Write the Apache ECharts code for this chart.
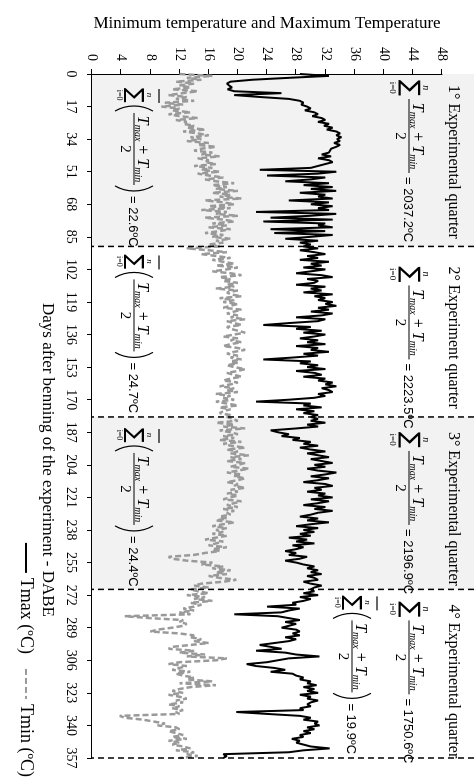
<!DOCTYPE html>
<html>
<head>
<meta charset="utf-8">
<script src="https://cdn.jsdelivr.net/npm/echarts@6/dist/echarts.min.js"></script>
<style>
  html, body { margin: 0; padding: 0; background: #fff; width: 474px; height: 779px; overflow: hidden; }
  /* chart is drawn landscape and turned a quarter clockwise, like the figure */
  #chart { position: absolute; left: 0; top: 0; width: 779px; height: 474px;
           transform-origin: 0 0; transform: translate(474px, 0) rotate(90deg); }
</style>
</head>
<body>
<div id="chart"></div>
<script>
// daily maximum temperature, days 0..357
const tmax = [
  28.5, 32.5, 27, 22, 19, 18.5, 18.8, 19.2, 18.6, 19.5,
  26, 19.5, 23, 27, 28.5, 29, 28.7, 29.5, 30, 29.2,
  30.5, 31, 30.2, 31.5, 32, 31, 32.5, 31.8, 33, 32.2,
  33.5, 34, 33.5, 34.2, 33.6, 34, 33.2, 34, 33.5, 32.8,
  33, 32.5, 31.5, 32.8, 31, 32.5, 33, 32, 31.8, 30,
  23, 33.5, 31, 24, 32, 30, 26.5, 32.5, 29, 33,
  30, 33.5, 28.5, 32, 31, 33, 27, 32.5, 30, 33,
  31, 32.5, 22.5, 33.5, 30, 24.5, 33, 23.5, 32, 31,
  33, 24.5, 32, 25, 33, 30, 26.5, 31, 28.5, 30,
  29, 31, 28.5, 30.5, 32, 29.5, 31, 28.5, 32.5, 30,
  31.5, 29, 32, 30, 28, 31.5, 33, 29.5, 31, 30.5,
  28, 32, 30, 31.5, 29, 33, 30.5, 32, 31, 33,
  32, 33.5, 31, 32.5, 30, 33, 31.5, 28, 32, 31,
  27, 23.5, 30, 28, 31.5, 29, 32, 30.5, 28.5, 31,
  29.5, 32, 28, 31, 30, 32.5, 29, 31, 27.5, 23.5,
  30, 28.5, 31, 29.5, 32, 28, 30.5, 31.5, 29, 32,
  31, 33, 32, 33.5, 31.5, 32.5, 33, 31, 32, 30.5,
  27, 22.5, 30, 29, 31.5, 28, 30.5, 29, 31, 30,
  31, 30, 32, 29.5, 31, 28, 24.5, 25.5, 27, 26,
  28.5, 27.5, 30, 29, 31, 28.5, 30, 32, 29.5, 31,
  32.5, 30, 31.5, 33, 30.5, 32, 29.5, 31, 33.5, 32,
  30, 32.5, 31, 29, 32, 33, 30.5, 31.5, 29.5, 32,
  31, 33, 30, 32.5, 31, 29, 32, 30.5, 33, 31,
  30, 28.5, 31, 29.5, 32.5, 30, 28, 31, 29, 30.5,
  28.5, 30, 27, 29.5, 28, 30.5, 27.5, 29, 28, 26.5,
  28, 27, 29.5, 28.5, 26.5, 28, 29, 30.5, 29.5, 31,
  30, 31.5, 29.5, 30.5, 31, 29, 30, 31.5, 30.5, 30,
  30.5, 29, 31, 28.5, 30, 29, 27.5, 28, 24, 28.5,
  27, 26, 19.5, 25.5, 27, 28.5, 26.5, 28, 27, 26,
  28, 28.5, 27.5, 28.5, 26.5, 28, 27, 25, 23, 24.5,
  26, 22.5, 26.5, 28, 31.2, 27, 25.5, 24, 21.2, 22.5,
  25, 26.5, 24.5, 27.5, 28, 29, 28.5, 30, 29.5, 30.8,
  29, 30.5, 29.5, 31, 28.5, 30, 29.5, 31, 30, 29.5,
  30, 28.5, 29, 19.8, 24, 28.5, 30, 29, 31, 30.5,
  31.2, 29.5, 30.5, 29, 30, 28.5, 29, 27.4, 28.5, 28,
  29, 30, 32.6, 29, 27, 18, 18.5, 18
];

// daily minimum temperature, days 0..357
const tmin = [
  12, 16.5, 13, 15, 11.5, 14, 12, 13.5, 11, 14.5,
  12.5, 10.5, 13, 11.5, 14, 10, 12.5, 9.5, 12, 11,
  13.5, 10.5, 12, 14.5, 11.5, 13, 12.5, 14, 13, 15.5,
  12.5, 14.5, 16, 13.5, 15, 13, 16, 14.5, 17, 15,
  14, 16.5, 15, 17.5, 14.5, 16, 15.5, 17, 14, 16.5,
  15, 17.5, 14.5, 16, 18, 15.5, 17, 19.5, 16.5, 18.5,
  17, 20, 16.5, 19, 17.5, 20.5, 15.5, 18, 19.5, 16,
  19, 15, 18.5, 17, 20, 15.5, 18, 19.5, 16.5, 18.5,
  16, 19, 17.5, 15.5, 18, 16.5, 19, 17, 18, 16,
  17.5, 13, 16, 18.5, 15, 17, 19, 16.5, 18, 19.5,
  17, 20, 18.5, 16.5, 19, 20.5, 17.5, 19, 18, 20,
  18.5, 19.5, 17, 20, 18.5, 19, 20.5, 17.5, 19.5, 18,
  20, 19, 18, 20.5, 19.5, 18.5, 20, 19, 21, 18.5,
  19.5, 20.5, 18.5, 19, 20, 21, 19.5, 18, 20, 19,
  20.5, 19, 18, 20, 21, 19.5, 18.5, 20, 19, 20.5,
  19, 20, 18.5, 19.5, 21, 20, 18.5, 19.5, 20.5, 19,
  18, 20, 19, 17.5, 19.5, 18.5, 20, 17, 19, 18,
  19.5, 17, 18.5, 20, 17.5, 19, 18, 17.5, 19, 18.5,
  18.5, 20, 17, 19.5, 18, 21, 17.5, 19, 20, 18,
  19.5, 17.5, 20.5, 18, 19, 21, 18.5, 20, 19, 21.5,
  19, 20.5, 18.5, 21, 20, 19, 21.5, 20, 18.5, 20.5,
  19.5, 21, 20, 18.5, 20, 19.5, 21, 19, 20, 18.5,
  20, 19, 18, 20.5, 19.5, 18.5, 20, 18, 19.5, 18.5,
  19, 17.5, 18.5, 17, 19.5, 18, 16.5, 18.5, 17, 18,
  16.5, 18.5, 17, 15.5, 18, 17, 16, 18.5, 16.5, 17.5,
  15.5, 14, 10.5, 11, 13, 16.5, 15, 18, 16.5, 19,
  17, 18.5, 16, 17.5, 19.8, 18, 15, 14, 16, 13.5,
  14.5, 16, 13, 15.5, 14, 16.5, 13.5, 15, 14, 12.5,
  14, 12, 13.5, 4.5, 8, 12.5, 12, 13, 12.5, 11,
  9, 8, 12, 14, 13.5, 15, 14, 16, 13.5, 11,
  10.5, 14, 12, 15.5, 13, 18.5, 17, 12, 10.5, 13,
  12, 11, 13.5, 11.5, 12.5, 14, 13, 16.5, 12, 17,
  13.5, 12, 11, 12.5, 10.5, 12, 13, 11.5, 12.5, 10.5,
  12, 11, 12.5, 11.5, 12, 3.8, 4.5, 7, 8.5, 10,
  9, 11.5, 12, 10.5, 11.5, 12.5, 11, 13, 10.5, 12,
  11, 12.5, 13.5, 11.5, 14, 13, 14.5, 12
];

const quarterBounds = [0, 90, 179, 269, 357];
const quarterTitles = ['1° Experimental quarter', '2° Experiment quarter', '3° Experimental quarter', '4° Experimental quarter'];
const quarterSums = ['2037.2', '2223.5', '2196.9', '1750.6'];
const quarterMeans = ['22.6', '24.7', '24.4', '19.9'];

// layout of the annotations (pixels from the start of each quarter)
const titleOff = [11, 20, 15, 15];
const sumOff = [6, 20, 15, 12];
const meanOff = [14, 8, 11, 6];
const meanAxis = [340, 340, 340, 122];

const serif = '"Liberation Serif", "Times New Roman", serif';
const chart = echarts.init(document.getElementById('chart'));

const option = {
  animation: false,
  backgroundColor: '#fff',
  grid: { left: 74, right: 21, top: 32, bottom: 92, containLabel: false, outerBoundsMode: 'none' },
  legend: {
    right: -3,
    bottom: 12,
    itemWidth: 30,
    itemHeight: 3,
    itemGap: 14,
    itemStyle: { opacity: 0 },
    textStyle: { fontFamily: serif, fontSize: 18, color: '#000' },
    data: ['Tmax (ºC)', 'Tmin (ºC)']
  },
  xAxis: {
    type: 'value',
    min: 0,
    max: 357,
    interval: 17,
    name: 'Days after benning of the experiment - DABE',
    nameLocation: 'middle',
    nameGap: 36,
    nameTextStyle: { fontFamily: serif, fontSize: 17, color: '#000', padding: [0, 0, 0, 88] },
    axisLine: { show: true, onZero: false, lineStyle: { color: '#000', width: 1 } },
    axisTick: { show: true, inside: false, length: 5, lineStyle: { color: '#000' } },
    axisLabel: { fontFamily: serif, fontSize: 14, color: '#000', margin: 14 },
    splitLine: { show: false }
  },
  yAxis: {
    type: 'value',
    min: 0,
    max: 48,
    interval: 4,
    name: 'Minimum temperature and Maximum Temperature',
    nameLocation: 'middle',
    nameGap: 42,
    nameTextStyle: { fontFamily: serif, fontSize: 17, color: '#000' },
    axisLine: { show: true, lineStyle: { color: '#000', width: 1 } },
    axisTick: { show: true, inside: false, length: 5, lineStyle: { color: '#000' } },
    axisLabel: { fontFamily: serif, fontSize: 14, color: '#000', margin: 13 },
    splitLine: { show: false }
  },
  series: [
    {
      name: 'Tmax (ºC)',
      type: 'line',
      data: tmax.map((v, i) => [i, v]),
      symbol: 'none',
      z: 4,
      lineStyle: { color: '#000', width: 2 },
      itemStyle: { color: '#000' }
    },
    {
      name: 'Tmin (ºC)',
      type: 'line',
      data: tmin.map((v, i) => [i, v]),
      symbol: 'none',
      z: 3,
      lineStyle: { color: '#9a9a9a', width: 2.5, type: [6, 3] },
      itemStyle: { color: '#9a9a9a' }
    }
  ]
};

chart.setOption(option);

// ---- quarter shading, dashed separators and the formulas ----
const px = d => chart.convertToPixel({ xAxisIndex: 0 }, d);
const base = chart.convertToPixel({ yAxisIndex: 0 }, 0);

function txt(text, x, y, font, align, va) {
  return {
    type: 'text', x: x, y: y, z: 10,
    style: { text: text, font: font, fill: '#000', align: align || 'left', textAlign: align || 'left',
             verticalAlign: va || 'middle', textVerticalAlign: va || 'middle' }
  };
}

function numerator(x, y, size) {
  const sub = Math.round(size * 0.62);
  return {
    type: 'text', x: x, y: y, z: 10,
    style: {
      text: '{t|T}{s|max}{o| + }{t|T}{s|min}',
      align: 'center', textAlign: 'center', verticalAlign: 'middle', textVerticalAlign: 'middle',
      rich: {
        t: { fontFamily: serif, fontStyle: 'italic', fontSize: size, color: '#000' },
        s: { fontFamily: serif, fontStyle: 'italic', fontSize: sub, color: '#000', verticalAlign: 'bottom', lineHeight: size + 2 },
        o: { fontFamily: serif, fontSize: size, color: '#000' }
      }
    }
  };
}

function sigma(els, x, ay, size) {
  els.push(txt('∑', x, ay, size + 'px "DejaVu Sans"', 'left', 'middle'));
  els.push(txt('n', x + size * 0.32, ay - size * 0.68, 'italic ' + Math.round(size * 0.4) + 'px ' + serif, 'center'));
  els.push(txt('i=0', x + size * 0.32, ay + size * 0.7, Math.round(size * 0.38) + 'px ' + serif, 'center'));
}

function addSum(els, x, ay, value) {
  sigma(els, x, ay, 24);
  const fx = x + 19, fw = 74;
  els.push({ type: 'line', z: 10, shape: { x1: fx, y1: ay, x2: fx + fw, y2: ay }, style: { stroke: '#000', lineWidth: 1 } });
  els.push(numerator(fx + fw / 2, ay - 8, 16));
  els.push(txt('2', fx + fw / 2, ay + 9, '15px ' + serif, 'center'));
  els.push(txt('= ' + value + 'ºC', fx + fw + 4, ay + 1, '13px "Liberation Sans"', 'left'));
}

function addMean(els, x, ay, value) {
  sigma(els, x, ay, 22);
  els.push({ type: 'line', z: 10, shape: { x1: x + 1, y1: ay - 25, x2: x + 15, y2: ay - 25 }, style: { stroke: '#000', lineWidth: 1.2 } });
  const r = 38, lx = x + 18;
  els.push({ type: 'arc', z: 10, shape: { cx: lx + r, cy: ay, r: r, startAngle: Math.PI * 5 / 6, endAngle: Math.PI * 7 / 6, clockwise: true },
             style: { stroke: '#000', lineWidth: 1.2, fill: null } });
  const fx = lx + 7, fw = 72;
  els.push({ type: 'line', z: 10, shape: { x1: fx, y1: ay, x2: fx + fw, y2: ay }, style: { stroke: '#000', lineWidth: 1 } });
  els.push(numerator(fx + fw / 2, ay - 8, 16));
  els.push(txt('2', fx + fw / 2, ay + 9, '15px ' + serif, 'center'));
  const rx = fx + fw + 6;
  els.push({ type: 'arc', z: 10, shape: { cx: rx - r, cy: ay, r: r, startAngle: -Math.PI / 6, endAngle: Math.PI / 6, clockwise: true },
             style: { stroke: '#000', lineWidth: 1.2, fill: null } });
  els.push(txt('= ' + value + 'ºC', rx + 5, ay + 1, '13px "Liberation Sans"', 'left'));
}

const els = [];
for (let q = 0; q < 4; q++) {
  const x0 = px(quarterBounds[q]);
  const x1 = px(quarterBounds[q + 1]);
  if (q % 2 === 0) {
    els.push({ type: 'rect', z: -1, shape: { x: x0, y: 0, width: x1 - x0, height: base }, style: { fill: '#f2f2f2' } });
  }
  els.push({ type: 'line', z: 6, shape: { x1: x1, y1: 0, x2: x1, y2: base }, style: { stroke: '#000', lineWidth: 1.5, lineDash: [6, 4] } });
  els.push(txt(quarterTitles[q], x0 + titleOff[q], 21, '16px ' + serif, 'left', 'middle'));
  addSum(els, x0 + sumOff[q], 65, quarterSums[q]);
  addMean(els, x0 + meanOff[q], meanAxis[q], quarterMeans[q]);
}
chart.setOption({ graphic: { elements: els } });
</script>
</body>
</html>
